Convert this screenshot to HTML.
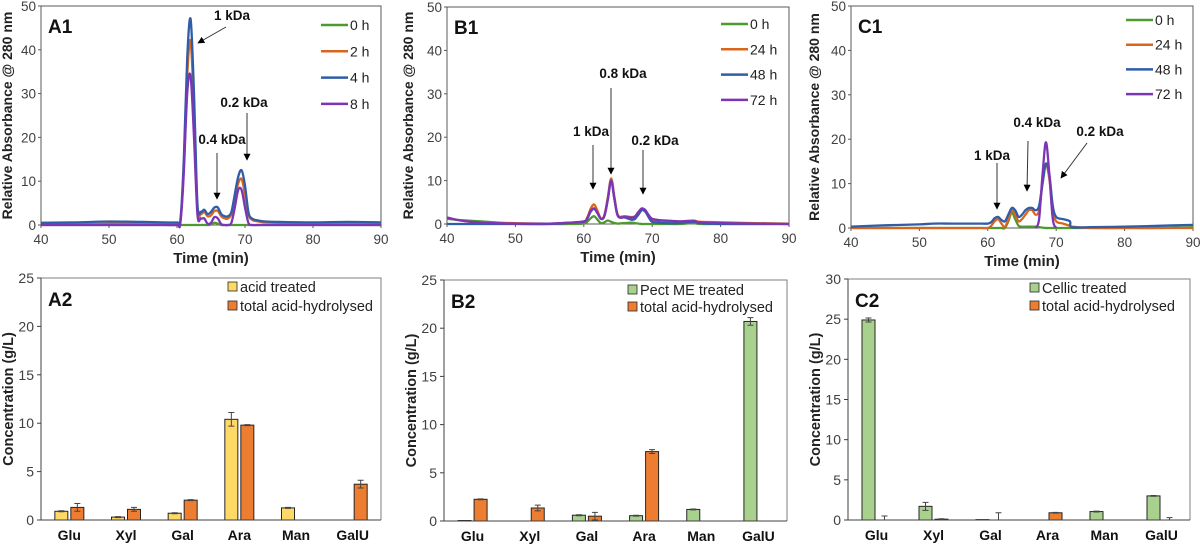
<!DOCTYPE html>
<html><head><meta charset="utf-8">
<style>
html,body{margin:0;padding:0;background:#fff;}
svg{display:block;font-family:"Liberation Sans",Arial,sans-serif;}
</style></head>
<body>
<svg id="fig" width="1200" height="546" viewBox="0 0 1200 546" xmlns="http://www.w3.org/2000/svg">
<defs>
<marker id="ah" viewBox="0 0 10 10" refX="9" refY="5" markerWidth="7" markerHeight="7" orient="auto-start-reverse"><path d="M0,0 L10,5 L0,10 z" fill="#000"/></marker>
</defs>
</svg>
<script>
// ---------- chromatogram data ----------
const timesA = [40,45,50,55,58,60,60.5,61,61.5,62,62.5,63,63.5,64,64.5,65,65.5,66,66.5,67,67.5,68,68.5,69,69.5,70,70.5,71,72,73,75,80,85,90];
const a1_0h = [0,0,0,0,0,0,0,0,0,0,0,0,0,0,0,0.1,0.5,0.3,0,0,0,0,0,0,0,0,0,0,0,0,0,0,0,0];
const a1_2h = [0.2,0.2,0.3,0.3,0.3,0.3,0.8,13,34,42,26,4,2.5,3,2,2.2,3.2,3.2,2,1.5,1.5,2.5,6,9.5,10.5,7,2.5,1.2,0.8,0.6,0.5,0.4,0.4,0.3];
const a1_4h = [0.5,0.6,0.8,0.7,0.6,0.6,1.2,15,38,47,30,5,3,3.5,2.5,3,4,4,2.5,2,2,3,7,11,12.5,9,3,1.5,1,0.8,0.7,0.6,0.7,0.6];
const a1_8h = [0,0,0,0,0,0,0.5,12,30,34,20,2.5,1.5,1.5,0.3,0.5,1.8,1.5,0.2,0,0,0.5,4,8,8,4,0.5,0,0,0,0,0,0,0];

const timesB = [40,42,45,50,55,58,60,60.5,61,61.5,62,62.5,63,63.5,64,64.5,65,66,67,67.5,68,68.5,69,69.5,70,71,72,74,76,77,80,85,90];
const b1_0h = [1.2,0.9,0.6,0.1,0,0,0.1,0.5,1.3,1.8,1,0.2,0.4,0.8,0.5,0.2,0.1,0.2,0.3,0.2,0.1,0,0,0,0,0,0,0,0.2,0,0,0,0];
const b1_24h = [1.5,0.8,0.3,0.2,0.1,0.3,0.5,1.5,3.5,4.5,3,1.3,2,6,10.5,6,2,1.8,1.6,1.8,2.8,3.3,3,2,1,0.8,0.7,0.6,0.8,0.5,0.4,0.2,0.1];
const b1_48h = [0,0,0,0,0,0.3,0.5,1.2,2.8,3.5,2.5,1.2,1.8,5.5,10,5.5,1.8,1.5,1,1.2,2.2,3.2,2.8,1.5,0.5,0.3,0.2,0.2,0.5,0.2,0,0,0];
const b1_72h = [1.5,0.8,0.3,0.1,0.1,0.3,0.6,1.3,3,3.6,2.5,1.2,1.8,5.5,10,5.5,1.8,1.6,1.5,1.7,2.8,3.6,3.2,2,1.2,0.9,0.8,0.6,0.7,0.4,0.2,0.1,0];

const timesC = [40,45,50,52,55,59,60,60.5,61,61.5,62,62.5,63,63.5,64,64.5,65,65.5,66,66.5,67,67.5,68,68.5,69,69.5,70,71,72,72.3,75,80,85,90];
const c1_0h = [0,0,0,0,0,0,0,0,0,0,0,0,1.5,3.5,2,0.5,0.3,0.3,0.3,0.3,0.3,0.2,0.1,0,0,0,0,0,0,0,0,0,0,0.2];
const c1_24h = [0,0,0,0,0,0,0,0.5,1.5,2,1,0.2,2,4,3,1.5,2,3,4,4,3,4,10,14.3,11,4,1.5,1,0.5,0.3,0,0,0,0];
const c1_48h = [0.3,0.6,0.8,1,1,1,1,1.3,2.2,2.5,1.8,1.5,3,4.5,4,2.5,3,4,4.5,4.5,4,5,10,14.5,12,5,2.5,2,1.5,0.2,0.2,0.3,0.5,0.7];
const c1_72h = [null,null,null,null,null,null,null,null,null,null,null,null,null,null,null,null,null,null,null,null,0,2,12,19.3,12,2,0,null,null,null,null,null,null,null];

// ---------- sugar data ----------
const sugars = ["Glu","Xyl","Gal","Ara","Man","GalU"];
const a2_treated = [0.9,0.3,0.7,10.4,1.25,0];
const a2_treatedErr = [0.05,0.05,0.05,0.7,0.05,0];
const a2_total = [1.3,1.1,2.05,9.8,0,3.7];
const a2_totalErr = [0.4,0.2,0.05,0.05,0,0.4];
const b2_treated = [0.05,0,0.6,0.55,1.2,20.7];
const b2_treatedErr = [0,0,0.05,0.05,0.05,0.4];
const b2_total = [2.25,1.35,0.5,7.2,0,0];
const b2_totalErr = [0.05,0.3,0.4,0.2,0,0];
const c2_treated = [24.9,1.7,0.05,0,1.05,3.0];
const c2_treatedErr = [0.25,0.5,0,0,0.05,0.05];
const c2_total = [0,0.1,0,0.9,0,0];
const c2_totalErr = [0.5,0.05,0.9,0.05,0,0.3];

const xTicks = [40,50,60,70,80,90];
const yTicks1 = [0,10,20,30,40,50];

const NS = "http://www.w3.org/2000/svg";
const svg = document.getElementById("fig");
function mk(tag, attrs, parent, text){
  const e = document.createElementNS(NS, tag);
  for (const k in attrs) e.setAttribute(k, attrs[k]);
  if (text !== undefined) e.textContent = text;
  (parent || svg).appendChild(e);
  return e;
}
const TICK = "#404040";

function smoothPath(pts){
  let d = "";
  for (let i=0;i<pts.length;i++){
    const p = pts[i];
    if (i===0){ d += "M"+p[0].toFixed(1)+","+p[1].toFixed(1); continue; }
    const p0 = pts[Math.max(0,i-2)], p1 = pts[i-1], p3 = pts[Math.min(pts.length-1,i+1)];
    const c1x = p1[0]+(p[0]-p0[0])/6, c1y = p1[1]+(p[1]-p0[1])/6;
    const c2x = p[0]-(p3[0]-p1[0])/6, c2y = p[1]-(p3[1]-p1[1])/6;
    d += " C"+c1x.toFixed(1)+","+c1y.toFixed(1)+" "+c2x.toFixed(1)+","+c2y.toFixed(1)+" "+p[0].toFixed(1)+","+p[1].toFixed(1);
  }
  return d;
}

function chrom(cfg){
  const g = mk("g", {});
  
  
  const xs = t => cfg.L + (t-40)/50*(cfg.R-cfg.L);
  const ys = v => cfg.B - v/50*(cfg.B-cfg.T);
  const fr = mk("rect", {x:cfg.L,y:cfg.T,width:cfg.R-cfg.L,height:cfg.B-cfg.T,fill:"none",stroke:"#595959","stroke-width":1}, g);
  
  
  xTicks.forEach(t=>{
    const tl = mk("text",{x:xs(t),y:cfg.B+19,"text-anchor":"middle","font-size":13.5,fill:TICK},g,String(t));
    
    
    mk("line",{x1:xs(t),x2:xs(t),y1:cfg.B,y2:cfg.B+3,stroke:"#595959"},g);
  });
  yTicks1.forEach(v=>{
    const tl = mk("text",{x:cfg.L-5,y:ys(v)+5,"text-anchor":"end","font-size":13.5,fill:TICK},g,String(v));
    
    
    mk("line",{x1:cfg.L-3,x2:cfg.L,y1:ys(v),y2:ys(v),stroke:"#595959"},g);
  });
  const xt = mk("text",{x:(cfg.L+cfg.R)/2,y:cfg.B+38,"text-anchor":"middle","font-size":15,"font-weight":"bold",fill:"#222"},g,"Time (min)");
  
  
  const yt = mk("text",{x:0,y:0,transform:`translate(${cfg.yx},${(cfg.T+cfg.B)/2}) rotate(-90)`,"text-anchor":"middle","font-size":14,"font-weight":"bold",fill:"#222"},g,"Relative Absorbance @ 280 nm");
  
  
  const pl = mk("text",{x:cfg.L+7,y:cfg.T+27,"font-size":19,"font-weight":"bold",fill:"#111"},g,cfg.label);
  
  
  cfg.series.forEach((s,i)=>{
    const pts = [];
    s.vals.forEach((v,j)=>{ if (v !== null) pts.push([xs(cfg.times[j]), ys(v)]); });
    const p = mk("path",{d:smoothPath(pts),fill:"none",stroke:s.color,"stroke-width":2.3,"stroke-linejoin":"round"},g);
    
    
  });
  cfg.series.forEach((s,i)=>{
    const le = mk("g",{},g);
    
    
    const ly = cfg.legY + i*cfg.legStep;
    mk("line",{x1:cfg.legX,x2:cfg.legX+27,y1:ly,y2:ly,stroke:s.color,"stroke-width":2.5},le);
    mk("text",{x:cfg.legX+29,y:ly+5,"font-size":14,fill:"#222"},le,s.label);
  });
  cfg.notes.forEach(n=>{
    const ng = mk("g",{},g);
    
    
    mk("text",{x:n.tx,y:n.ty,"text-anchor":"middle","font-size":13.5,"font-weight":"bold",fill:"#111"},ng,n.t);
    mk("line",{x1:n.x1,y1:n.y1,x2:n.x2,y2:n.y2,stroke:"#333","stroke-width":1,"marker-end":"url(#ah)"},ng);
  });
}

const G="#4E9A2F", O="#D9661E", BL="#2F5DA8", P="#7B35B5";
chrom({name:"chart-a1",label:"A1",L:41,R:381,T:6,B:225,yx:12,times:timesA,
  series:[{key:"0h",label:"0 h",color:G,vals:a1_0h},{key:"2h",label:"2 h",color:O,vals:a1_2h},{key:"4h",label:"4 h",color:BL,vals:a1_4h},{key:"8h",label:"8 h",color:P,vals:a1_8h}],
  legX:321,legY:25,legStep:26.3,
  notes:[{t:"1 kDa",tx:232,ty:20,x1:226,y1:27,x2:198,y2:43},{t:"0.2 kDa",tx:244,ty:107,x1:247,y1:113,x2:247,y2:160},{t:"0.4 kDa",tx:222,ty:144,x1:217,y1:153,x2:217,y2:199}]});
chrom({name:"chart-b1",label:"B1",L:447,R:789,T:7,B:224,yx:413,times:timesB,
  series:[{key:"0h",label:"0 h",color:G,vals:b1_0h},{key:"24h",label:"24 h",color:O,vals:b1_24h},{key:"48h",label:"48 h",color:BL,vals:b1_48h},{key:"72h",label:"72 h",color:P,vals:b1_72h}],
  legX:721,legY:24,legStep:25.3,
  notes:[{t:"1 kDa",tx:591,ty:136,x1:593,y1:145,x2:593,y2:189},{t:"0.8 kDa",tx:623,ty:78,x1:611,y1:88,x2:611,y2:174},{t:"0.2 kDa",tx:655,ty:145,x1:643,y1:150,x2:643,y2:194}]});
chrom({name:"chart-c1",label:"C1",L:851,R:1193,T:6,B:228,yx:819,times:timesC,
  series:[{key:"0h",label:"0 h",color:G,vals:c1_0h},{key:"24h",label:"24 h",color:O,vals:c1_24h},{key:"48h",label:"48 h",color:BL,vals:c1_48h},{key:"72h",label:"72 h",color:P,vals:c1_72h}],
  legX:1126,legY:20,legStep:24.7,
  notes:[{t:"1 kDa",tx:992,ty:160,x1:997,y1:163,x2:997,y2:209},{t:"0.4 kDa",tx:1037,ty:127,x1:1028,y1:141,x2:1027,y2:191},{t:"0.2 kDa",tx:1100,ty:136,x1:1087,y1:143,x2:1061,y2:178}]});

function bars(cfg){
  const g = mk("g", {});
  
  
  const ys = v => cfg.B - v/cfg.max*(cfg.B-cfg.T);
  const cw = (cfg.R-cfg.L)/sugars.length;
  const fr = mk("path",{d:`M${cfg.L},${cfg.T} H${cfg.R} V${cfg.B}`,fill:"none",stroke:"#7f7f7f","stroke-width":1},g);
  
  
  cfg.ticks.forEach(v=>{
    const tl = mk("text",{x:cfg.L-7,y:ys(v)+5,"text-anchor":"end","font-size":14,fill:TICK},g,String(v));
    
    
    mk("line",{x1:cfg.L-4,x2:cfg.L,y1:ys(v),y2:ys(v),stroke:"#404040"},g);
  });
  const yt = mk("text",{x:0,y:0,transform:`translate(${cfg.yx},${(cfg.T+cfg.B)/2}) rotate(-90)`,"text-anchor":"middle","font-size":14.5,"font-weight":"bold",fill:"#222"},g,"Concentration (g/L)");
  
  
  const pl = mk("text",{x:cfg.L+7,y:cfg.T+28,"font-size":19,"font-weight":"bold",fill:"#111"},g,cfg.label);
  
  
  const bw = 13;
  sugars.forEach((s,i)=>{
    const cx = cfg.L + cw*(i+0.5);
    const ct = mk("text",{x:cx,y:cfg.B+20,"text-anchor":"middle","font-size":14,"font-weight":"bold",fill:"#111"},g,s);
    
    
    [[cfg.s1,cfg.e1,cfg.c1,-1],[cfg.s2,cfg.e2,cfg.c2,1]].forEach(([vals,errs,col,side],k)=>{
      const v = vals[i], x0 = side<0 ? cx-1.5-bw : cx+1.5;
      if (v > 0){
        const r = mk("rect",{x:x0,y:ys(v),width:bw,height:cfg.B-ys(v),fill:col,stroke:"#262626","stroke-width":1},g);
        
        
      }
      const e = errs[i];
      if (e > 0){
        const ex = x0+bw/2, top = ys(v+e), bot = ys(Math.max(0,v-e));
        const eb = mk("path",{d:`M${ex},${top} V${bot} M${ex-3},${top} H${ex+3} M${ex-3},${bot} H${ex+3}`,stroke:"#444","stroke-width":1,fill:"none"},g);
        
        
      }
    });
  });
  mk("line",{x1:cfg.L,x2:cfg.R,y1:cfg.B,y2:cfg.B,stroke:"#404040","stroke-width":1},g);
  mk("line",{x1:cfg.L,x2:cfg.L,y1:cfg.T,y2:cfg.B,stroke:"#404040","stroke-width":1},g);
  [[cfg.l1,cfg.c1],[cfg.l2,cfg.c2]].forEach(([lab,col],k)=>{
    const le = mk("g",{},g);
    
    
    const ly = cfg.legY + k*cfg.legStep;
    mk("rect",{x:cfg.legX,y:ly-5,width:9,height:9,fill:col,stroke:"#262626","stroke-width":0.8},le);
    mk("text",{x:cfg.legX+12,y:ly+5,"font-size":14.5,fill:"#222"},le,lab);
  });
}
const Y="#FFD966", OR="#ED7D31", LG="#A9D18E";
bars({name:"chart-a2",label:"A2",L:41,R:381,T:278,B:520,max:25,ticks:[0,5,10,15,20,25],yx:13,
  s1:a2_treated,e1:a2_treatedErr,c1:Y,s2:a2_total,e2:a2_totalErr,c2:OR,l1:"acid treated",l2:"total acid-hydrolysed",legX:228,legY:287,legStep:19});
bars({name:"chart-b2",label:"B2",L:444,R:787,T:280,B:521,max:25,ticks:[0,5,10,15,20,25],yx:416,
  s1:b2_treated,e1:b2_treatedErr,c1:LG,s2:b2_total,e2:b2_totalErr,c2:OR,l1:"Pect ME treated",l2:"total acid-hydrolysed",legX:628,legY:290,legStep:17});
bars({name:"chart-c2",label:"C2",L:848,R:1190,T:279,B:520,max:30,ticks:[0,5,10,15,20,25,30],yx:820,
  s1:c2_treated,e1:c2_treatedErr,c1:LG,s2:c2_total,e2:c2_totalErr,c2:OR,l1:"Cellic treated",l2:"total acid-hydrolysed",legX:1030,legY:288,legStep:18});
</script>
</body></html>
